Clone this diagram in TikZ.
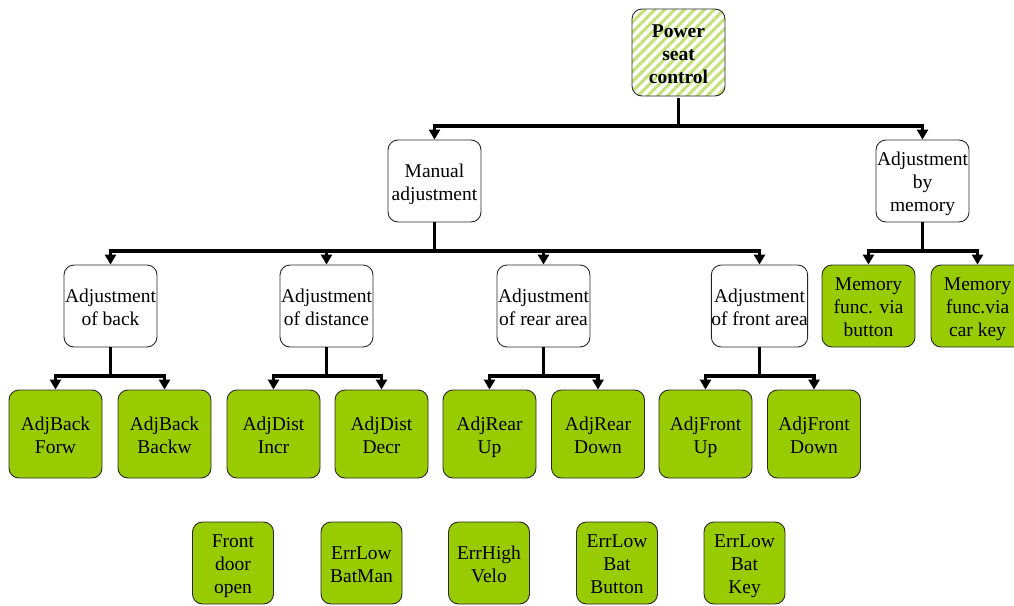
\documentclass[tikz,border=0pt]{standalone}
\usepackage{fontspec}
\setmainfont{Liberation Serif}
\usetikzlibrary{arrows.meta,patterns.meta}
\definecolor{leafgreen}{RGB}{153,204,0}
\definecolor{hatchgreen}{RGB}{196,224,120}
\definecolor{boxline}{RGB}{40,40,40}
% fixed room above the first line and below the last, so every text block
% sits at the same height in its box whatever its letters
\newcommand{\topgap}{\rule{0pt}{19.5pt}}
\newcommand{\botgap}{\rule[-4.5pt]{0pt}{4.5pt}}
\tikzset{
  box/.style={draw=boxline, line width=0.9pt, rounded corners=10pt, align=center,
    inner sep=0pt, font=\fontsize{19.5}{23}\selectfont, text=black},
  topbox/.style={box, minimum width=93pt, minimum height=87pt, font=\fontsize{19.5}{23}\selectfont\bfseries,
    pattern={Lines[angle=45,distance=7pt,line width=3pt]}, pattern color=hatchgreen},
  midbox/.style={box, fill=white, minimum width=93pt, minimum height=82pt},
  leafbox/.style={box, fill=leafgreen, minimum width=93pt, minimum height=88pt},
  membox/.style={box, fill=leafgreen, minimum width=93pt, minimum height=82pt},
  errbox/.style={box, fill=leafgreen, minimum width=81pt, minimum height=82pt},
  conn/.style={draw=black, line width=3.5pt},
  arr/.style={conn, -{Triangle[width=11pt,length=10pt]}}
}
\begin{document}
\begin{tikzpicture}[x=1pt,y=-1pt]
\useasboundingbox (0,0) rectangle (1014,605);
\clip (0,0) rectangle (1014,605);

% root
\node[topbox] (root) at (678.5,52.5) {\topgap Power\\seat\\control\botgap};

% first level
\node[midbox] (manual) at (434.5,181) {\topgap Manual\\adjustment\botgap};
\node[midbox] (memory) at (922.5,181) {\topgap Adjustment\\by\\memory\botgap};

% second level
\node[midbox] (back)  at (110.5,306) {\topgap Adjustment\\of back\botgap};
\node[midbox] (dist)  at (326.5,306) {\topgap Adjustment\\of distance\botgap};
\node[midbox] (rear)  at (543.5,306) {\topgap Adjustment\\of rear area\botgap};
\node[midbox] (front) at (759.5,306) {\topgap Adjustment\\of front area\botgap};
\node[membox] (memA)  at (868.5,306) {\topgap Memory\\func. via\\button\botgap};
\node[membox] (memB)  at (977.5,306) {\topgap Memory\\func.via\\car key\botgap};

% leaves
\node[leafbox] (backF)  at (55.5,434)  {\topgap AdjBack\\Forw\botgap};
\node[leafbox] (backB)  at (164.5,434) {\topgap AdjBack\\Backw\botgap};
\node[leafbox] (distI)  at (273.5,434) {\topgap AdjDist\\Incr\botgap};
\node[leafbox] (distD)  at (381.5,434) {\topgap AdjDist\\Decr\botgap};
\node[leafbox] (rearU)  at (489.5,434) {\topgap AdjRear\\Up\botgap};
\node[leafbox] (rearD)  at (598,434)   {\topgap AdjRear\\Down\botgap};
\node[leafbox] (frontU) at (705.5,434) {\topgap AdjFront\\Up\botgap};
\node[leafbox] (frontD) at (814,434)   {\topgap AdjFront\\Down\botgap};

% error states
\node[errbox] (door)   at (233,563)   {\topgap Front\\door\\open\botgap};
\node[errbox] (batMan) at (361.5,563) {\topgap ErrLow\\BatMan\botgap};
\node[errbox] (velo)   at (489,563)   {\topgap ErrHigh\\Velo\botgap};
\node[errbox] (batBtn) at (617,563)   {\topgap ErrLow\\Bat\\Button\botgap};
\node[errbox] (batKey) at (744.5,563) {\topgap ErrLow\\Bat\\Key\botgap};

% junctions of the connector buses
\coordinate (jRoot)   at (678.5,126);
\coordinate (jManual) at (434.5,251);
\coordinate (jMemory) at (922.5,251);
\coordinate (jBack)   at (110.5,376);
\coordinate (jDist)   at (326.5,376);
\coordinate (jRear)   at (543.5,376);
\coordinate (jFront)  at (759.5,376);

% root -> first level
\draw[conn] (root.south) -- (jRoot);
\draw[arr] (jRoot) -| (manual.north);
\draw[arr] (jRoot) -| (memory.north);

% manual -> second level
\draw[conn] (manual.south) -- (jManual);
\draw[arr] (jManual) -| (back.north);
\draw[arr] (jManual) -| (dist.north);
\draw[arr] (jManual) -| (rear.north);
\draw[arr] (jManual) -| (front.north);

% memory -> memory functions
\draw[conn] (memory.south) -- (jMemory);
\draw[arr] (jMemory) -| (memA.north);
\draw[arr] (jMemory) -| (memB.north);

% second level -> leaves
\draw[conn] (back.south) -- (jBack);
\draw[arr] (jBack) -| (backF.north);
\draw[arr] (jBack) -| (backB.north);
\draw[conn] (dist.south) -- (jDist);
\draw[arr] (jDist) -| (distI.north);
\draw[arr] (jDist) -| (distD.north);
\draw[conn] (rear.south) -- (jRear);
\draw[arr] (jRear) -| (rearU.north);
\draw[arr] (jRear) -| (rearD.north);
\draw[conn] (front.south) -- (jFront);
\draw[arr] (jFront) -| (frontU.north);
\draw[arr] (jFront) -| (frontD.north);
\end{tikzpicture}
\end{document}
